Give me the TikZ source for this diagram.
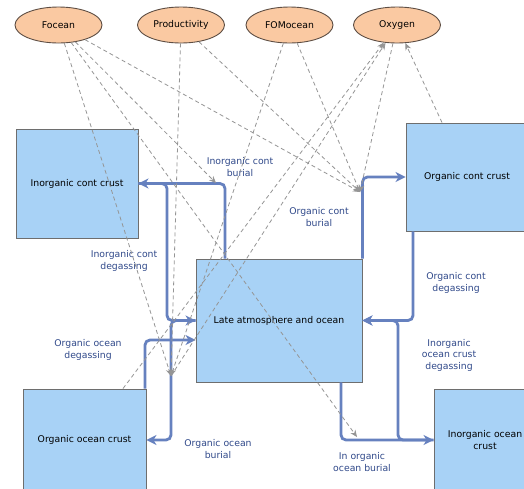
\documentclass[tikz,border=0pt]{standalone}
\usepackage{fontspec}
\setmainfont{DejaVu Sans}
\usetikzlibrary{arrows.meta,shapes.geometric}
\definecolor{stockfill}{HTML}{A8D2F6}
\definecolor{stockline}{HTML}{6E6E6E}
\definecolor{varfill}{HTML}{FAC9A2}
\definecolor{varline}{HTML}{5E4E44}
\definecolor{flowc}{HTML}{6681BF}
\definecolor{labc}{HTML}{30498A}
\definecolor{linkc}{HTML}{959595}
\begin{document}
\begin{tikzpicture}[x=1pt,y=-1pt,
  txt/.style={font=\fontsize{9.3}{11.5}\selectfont},
  stock/.style={txt,draw=stockline,fill=stockfill,line width=0.9pt,inner sep=0pt,align=center},
  var/.style={txt,ellipse,draw=varline,fill=varfill,line width=0.9pt,minimum width=87pt,minimum height=36pt,inner sep=0pt},
  flow/.style={draw=flowc,line width=2.8pt,rounded corners=5pt,-{Stealth[length=10pt,width=10pt,inset=3pt]}},
  flowlabel/.style={txt,text=labc,align=center},
  link/.style={draw=linkc,line width=0.8pt,dash pattern=on 4pt off 3pt,-{Stealth[length=7pt,width=6pt]}}
]
\fill[white] (0,0) rectangle (524,488);
\useasboundingbox (0,0) rectangle (524,488);
\clip (0,0) rectangle (524,488);

% variables
\node[var] (foc) at (58.5,25) {Focean};
\node[var] (prod) at (181,25) {Productivity};
\node[var] (fom) at (289.5,25) {FOMocean};
\node[var] (oxy) at (397,25) {Oxygen};

% stocks
\node[stock,minimum width=122pt,minimum height=109pt] (icc) at (77,183.5) {Inorganic cont crust};
\node[stock,minimum width=122pt,minimum height=108pt] (occ) at (467,177) {Organic cont crust};
\node[stock,minimum width=166pt,minimum height=123pt] (lao) at (279,320.5) {Late atmosphere and ocean};
\node[stock,minimum width=123pt,minimum height=102pt] (ooc) at (84.5,440) {Organic ocean crust};
\node[stock,minimum width=102pt,minimum height=102pt] (ioc) at (485,440) {Inorganic ocean\\crust};

% flows
\draw[flow] (225,0 |- lao.north) |- (icc.east);
\draw[flow] (icc.east) -| (167,0 |- lao.west) -- (lao.west);
\draw[flow] (145,0 |- ooc.north) |- (lao.west |- 0,340);
\draw[flow] (lao.west) -- (171,0 |- lao.west) |- (ooc.east);
\draw[flow] (lao.north east) |- (occ.west);
\draw[flow] (413,0 |- occ.south) |- (lao.east);
\draw[flow] (ioc.west) -| (398,0 |- lao.east) -- (lao.east);
\draw[flow] (341,0 |- lao.south) |- (ioc.west);

% flow labels
\node[flowlabel] (l1) at (240,167) {Inorganic cont\\burial};
\node[flowlabel] (l2) at (319,217) {Organic cont\\burial};
\node[flowlabel] (l3) at (124,261) {Inorganic cont\\degassing};
\node[flowlabel] (l4) at (456,283) {Organic cont\\degassing};
\node[flowlabel] (l5) at (88,350) {Organic ocean\\degassing};
\node[flowlabel] (l6) at (218,449) {Organic ocean\\burial};
\node[flowlabel] (l7) at (449,355) {Inorganic\\ocean crust\\degassing};
\node[flowlabel] (l8) at (362,462) {In organic\\ocean burial};

% link targets on flows
\coordinate (t1) at (216,183);
\coordinate (t2) at (360,192);
\coordinate (t3) at (171,376);
\coordinate (t4) at (357,437);

% links
\draw[link] (foc) -- (t3);
\draw[link] (foc) -- (t1);
\draw[link] (foc) -- (t4);
\draw[link] (foc) -- (t2);
\draw[link] (prod) -- (t3);
\draw[link] (prod) -- (t2);
\draw[link] (fom) -- (t3);
\draw[link] (fom) -- (t2);
\draw[link] (oxy) -- (t2);
\draw[link] (123,0 |- ooc.north) -- (oxy);
\draw[link] (t3) -- (oxy);
\draw[link] (442,0 |- occ.north) -- (oxy);
\end{tikzpicture}
\end{document}
